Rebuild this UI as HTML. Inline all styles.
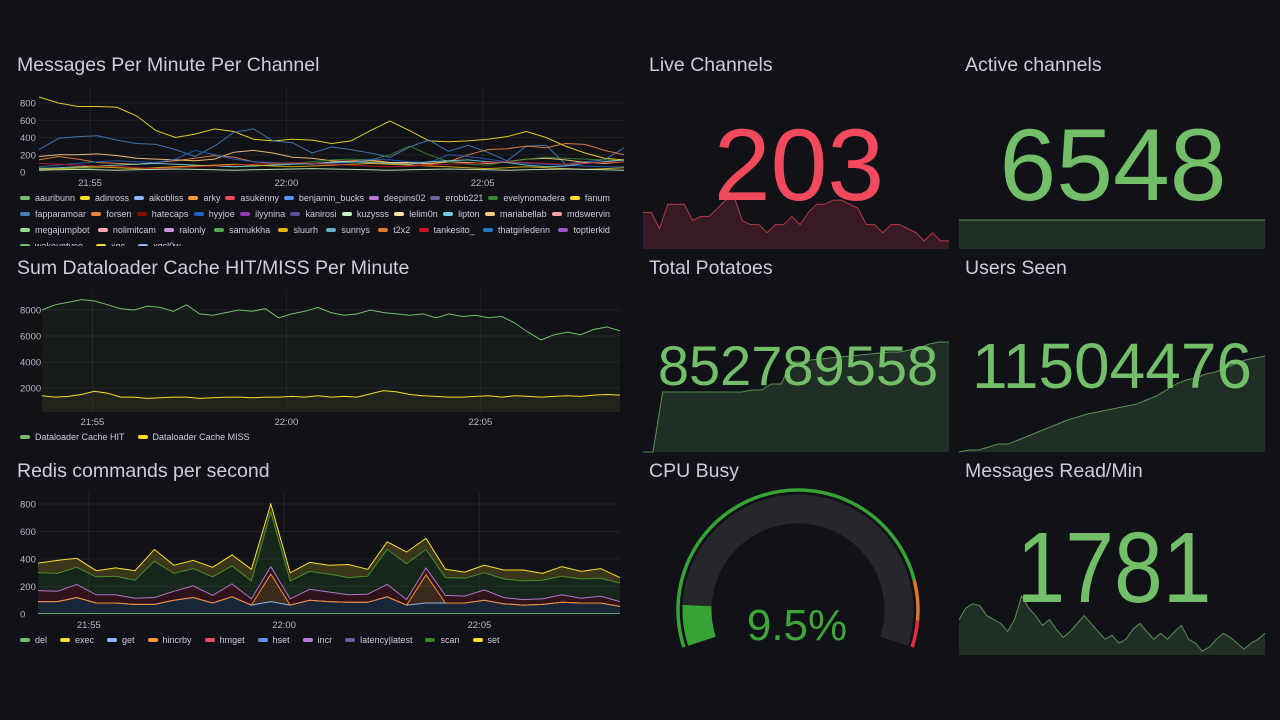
<!DOCTYPE html>
<html><head><meta charset="utf-8">
<style>
body{margin:0;background:#111217;width:1280px;height:720px;overflow:hidden;font-family:"Liberation Sans",sans-serif;}
.t{position:absolute;color:#ccccdc;font-size:19.5px;}
.leg{position:absolute;font-size:9px;color:#ccccdc;overflow:hidden;}
.row{display:flex;justify-content:space-between;height:16px;align-items:center;}
.row.l{justify-content:flex-start;}
.row.l .li{margin-right:13px;}
.li{display:flex;align-items:center;height:11px;white-space:nowrap;}
.li i{display:inline-block;width:10px;height:4px;border-radius:2px;margin-right:5px;}
svg{position:absolute;left:0;top:0;}
</style></head><body>
<div class="t" style="left:17px;top:54px">Messages Per Minute Per Channel</div>
<div class="t" style="left:17px;top:257px">Sum Dataloader Cache HIT/MISS Per Minute</div>
<div class="t" style="left:17px;top:460px">Redis commands per second</div>
<div class="t" style="left:649px;top:54px">Live Channels</div>
<div class="t" style="left:965px;top:54px">Active channels</div>
<div class="t" style="left:649px;top:257px">Total Potatoes</div>
<div class="t" style="left:965px;top:257px">Users Seen</div>
<div class="t" style="left:649px;top:460px">CPU Busy</div>
<div class="t" style="left:965px;top:460px">Messages Read/Min</div>
<svg id="s" width="1280" height="720"></svg>
<div class="leg" id="leg1" style="left:20px;top:190px;width:590px;height:56px"></div>
<div class="leg" id="leg2" style="left:20px;top:429px;width:600px;height:16px"></div>
<div class="leg" id="leg3" style="left:20px;top:632px;width:600px;height:16px"></div>
<script>
// ---- Panel 1 data ----
const chanNames=["aauribunn","adinross","aikobliss","arky","asukenny","benjamin_bucks","deepins02","erobb221","evelynomadera","fanum","fapparamoar","forsen","hatecaps","hyyjoe","ilyynina","kanirosi","kuzysss","lelim0n","lipton","mariabellab","mdswervin","megajumpbot","nolimitcam","ralonly","samukkha","sluurh","sunnys","t2x2","tankesito_","thatgirledenn","toptierkid","wakeuptype","xqc","xqcl0w"];
const chanColors=["#73bf69","#fade2a","#8ab8ff","#ff9830","#f2495c","#5794f2","#b877d9","#705da0","#37872d","#fade2a","#447ebc","#ef843c","#890f02","#1f60c4","#8f3bb8","#614d93","#c8f2c2","#ffe5a8","#6ed0e0","#ffcb7d","#ff9ea8","#96d98d","#ffa6b0","#ca95e5","#56a64b","#e0b400","#64b0c8","#e0752d","#c4162a","#1f78c1","#a352cc","#73bf69","#fade2a","#8ab8ff"];
const legendRowSizes=[10,11,10,3];
const adinross=[870,800,760,760,750,650,480,400,440,500,470,380,360,380,370,330,360,480,590,480,360,350,360,380,410,470,400,300,220,160,140];
const fapparamoar=[260,390,410,420,370,330,320,260,180,300,460,500,360,340,220,290,260,220,170,290,370,240,310,230,130,300,310,90,120,140,280];
const forsen=[140,180,150,110,100,90,110,130,160,190,170,120,100,100,90,120,130,140,110,100,90,120,200,260,270,300,280,330,320,250,200];
const mariabellab=[180,200,200,210,190,160,150,140,130,150,230,250,220,170,160,130,120,130,110,110,100,120,110,100,120,150,160,140,110,100,120];
const evelynomadera=[50,40,30,50,60,50,40,60,70,80,60,70,90,100,120,140,150,140,200,300,200,120,90,80,120,150,170,160,150,140,130];
const hyyjoe=[60,80,100,120,130,120,110,150,250,200,150,120,110,100,90,100,110,150,140,120,110,200,180,150,120,100,90,80,70,60,60];
const lipton=[40,50,60,70,80,90,100,90,80,70,60,70,80,90,100,110,120,110,100,90,120,130,140,120,110,80,60,70,100,120,140];
const sluurh=[30,40,50,60,50,40,50,60,70,80,90,80,70,60,70,80,90,100,90,80,70,60,50,40,50,60,50,40,30,40,50];
const tankesito=[100,90,80,70,60,50,40,50,60,70,80,90,100,110,100,90,80,70,60,70,80,90,100,110,120,110,100,90,100,110,120];
const kuzysss=[20,25,30,25,20,25,30,35,30,25,20,25,30,35,40,35,30,25,20,25,30,35,30,25,20,25,30,35,30,25,20];
const series1=[adinross,fapparamoar,forsen,mariabellab,evelynomadera,hyyjoe,lipton,sluurh,tankesito,kuzysss];
const series1Colors=["#fade2a","#447ebc","#ef843c","#ffcb7d","#37872d","#1f60c4","#6ed0e0","#e0b400","#c4162a","#c8f2c2"];
const ticks1=[0,200,400,600,800];
const timeTicks=["21:55","22:00","22:05"];
const timeTickMin=[0,5,10];
// ---- Panel 2 data ----
const hitVals=[8000,8400,8600,8800,8700,8400,8100,8000,8300,8200,7900,8400,7700,7600,7800,8000,7900,8100,7400,7700,7900,8200,7800,7600,7700,8000,7800,7700,7600,7700,7400,7700,7500,7600,7400,7500,7000,6300,5700,6100,6300,6100,6500,6700,6400];
const missVals=[1400,1300,1350,1500,1750,1600,1300,1300,1200,1250,1300,1300,1200,1250,1300,1300,1250,1300,1300,1350,1300,1400,1300,1350,1300,1550,1800,1700,1500,1400,1350,1300,1300,1350,1400,1300,1400,1350,1300,1350,1400,1350,1450,1500,1450];
const ticks2=[2000,4000,6000,8000];
// ---- Panel 3 data (stacked) ----
const delVals=[4,4,4,4,4,4,4,4,4,4,4,4,4,4,4,4,4,4,4,4,4,4,4,4,4,4,4,4,4,4,4];
const getVals=[86,86,116,76,76,66,66,96,116,76,121,61,86,61,96,86,81,81,121,61,76,76,76,96,71,61,66,81,76,76,51];
const hincrbyVals=[0,0,0,0,0,0,0,0,0,0,0,0,200,0,0,0,0,0,0,0,205,0,0,0,0,0,0,0,0,0,0];
const incrVals=[80,75,95,60,60,45,50,65,85,55,95,45,55,45,80,70,55,60,90,40,50,55,50,75,45,40,40,55,35,50,35];
const scanVals=[130,130,125,130,135,130,265,130,125,135,130,130,395,130,130,130,125,130,255,260,135,130,130,125,135,135,135,135,140,130,135];
const setVals=[70,95,65,45,60,70,85,60,60,70,80,85,60,60,65,65,95,50,55,85,80,60,45,55,65,80,50,70,55,70,40];
const ticks3=[0,200,400,600,800];
// ---- stat sparklines ----
const liveVals=[220,220,200,230,230,230,210,215,215,225,235,240,210,205,205,195,205,205,215,205,220,230,230,235,235,230,225,205,205,195,205,205,200,195,185,195,185,185];
const activeVals=[6548,6548,6548,6548,6548,6548,6548,6548,6548,6548];
const potatoVals=[0,0,60,60,60,60,60,60,60,60,60,62,62,68,68,90,90,92,93,94,95,96,97,98,99,100,100,102,104,108,110,110];
const usersVals=[0,2,2,5,8,8,12,16,20,24,28,32,35,38,40,42,44,46,48,52,56,62,68,72,74,78,80,84,88,92,94,96];
const readVals=[1500,1560,1580,1570,1520,1500,1480,1440,1500,1620,1560,1520,1470,1500,1450,1410,1440,1480,1520,1480,1440,1400,1420,1380,1400,1450,1480,1440,1400,1430,1400,1440,1470,1400,1380,1340,1360,1400,1430,1410,1380,1350,1380,1400,1430];
const cpuValue=9.5;

const S=document.getElementById('s');const NS="http://www.w3.org/2000/svg";
function el(t,a){const e=document.createElementNS(NS,t);for(const k in a)e.setAttribute(k,a[k]);S.appendChild(e);return e;}
function lin(d0,d1,r0,r1){return v=>r0+(v-d0)/(d1-d0)*(r1-r0);}
function txt(x,y,s,size,fill,anchor){const e=el('text',{x:x,y:y,'font-size':size,fill:fill,'text-anchor':anchor||'middle','font-family':'Liberation Sans, sans-serif'});e.textContent=s;return e;}
function path(vals,xs,ys){return vals.map((v,i)=>(i?'L':'M')+xs(i).toFixed(1)+' '+ys(v).toFixed(1)).join(' ');}
function tsAxis(x0,x1,tMin,tMax,yTop,yBot,labelY){
  const tx=lin(tMin,tMax,x0,x1);
  timeTickMin.forEach((m,i)=>{
    const g=el('line',{x1:tx(m),x2:tx(m),y1:yTop,y2:yBot,stroke:'rgba(204,204,220,0.08)'});
    
    const t=txt(tx(m),labelY,timeTicks[i],9.5,'#b9b9c6');
    
  });
}
function yAxis(ticks,ys,x0,x1,lx){
  ticks.forEach(v=>{
    const g=el('line',{x1:x0,x2:x1,y1:ys(v),y2:ys(v),stroke:'rgba(204,204,220,0.08)'});
    
    const t=txt(lx,ys(v)+3.5,String(v),9.5,'#b9b9c6','start');
    
  });
}
// Panel 1
(function(){
  const x0=39,x1=624,ys=lin(0,800,172,103);
  yAxis(ticks1,ys,x0,x1,20);
  tsAxis(x0,x1,-1.3,13.6,88,172,186);
  series1.forEach((s,k)=>{const xs=lin(0,s.length-1,x0,x1);
    const p=el('path',{d:path(s,xs,ys),fill:'none',stroke:series1Colors[k],'stroke-width':1,opacity:0.9});
    });
})();
// Panel 2
(function(){
  const x0=42,x1=620,ys=lin(0,2000,414,388);
  yAxis(ticks2,ys,x0,x1,20);
  tsAxis(x0,x1,-1.3,13.6,290,412,425);
  [[hitVals,'#73bf69'],[missVals,'#fade2a']].forEach(([s,c],k)=>{const xs=lin(0,s.length-1,x0,x1);
    const a=el('path',{d:path(s,xs,ys)+` L${x1} 412 L${x0} 412 Z`,fill:c,'fill-opacity':0.05});
    
    const p=el('path',{d:path(s,xs,ys),fill:'none',stroke:c,'stroke-width':1});
    });
})();
// Panel 3
(function(){
  const x0=38,x1=620,ys=lin(0,800,614,504);
  yAxis(ticks3,ys,x0,x1,20);
  tsAxis(x0,x1,-1.3,13.6,492,614,628);
  const layers=[[delVals,'#73bf69'],[getVals,'#8ab8ff'],[hincrbyVals,'#ff9830'],[incrVals,'#b877d9'],[scanVals,'#37872d'],[setVals,'#fade2a']];
  const fills=['#73bf69','#1f3a5a','#ff9830','#c4162a','#37872d','#fade2a'];
  let base=delVals.map(()=>0);
  const xs=lin(0,delVals.length-1,x0,x1);
  layers.forEach(([s,c],k)=>{
    const top=base.map((b,i)=>b+s[i]);
    const d=path(top,xs,ys)+' '+base.map((v,i)=>'L'+xs(base.length-1-i).toFixed(1)+' '+ys(base[base.length-1-i]).toFixed(1)).join(' ')+' Z';
    const a=el('path',{d:d,fill:fills[k],'fill-opacity':k==1?0.5:0.18});
    
    const p=el('path',{d:path(top,xs,ys),fill:'none',stroke:c,'stroke-width':1});
    
    base=top;
  });
})();
// Sparklines
function spark(vals,x0,x1,yb,d0,d1,yt,c,fo){
  const xs=lin(0,vals.length-1,x0,x1),ys=lin(d0,d1,yb,yt);
  const a=el('path',{d:path(vals,xs,ys)+` L${x1} ${yb} L${x0} ${yb} Z`,fill:c,'fill-opacity':fo});
  
  const p=el('path',{d:path(vals,xs,ys),fill:'none',stroke:c,'stroke-width':1,'stroke-opacity':0.7});
  
}
spark(liveVals,643,949,249,175,245,192,'#f2495c',0.17);
spark(activeVals,959,1265,249,0,12645,193,'#73bf69',0.17);
spark(potatoVals,643,949,452,0,112,340,'#73bf69',0.17);
spark(usersVals,959,1265,452,0,100,352,'#73bf69',0.17);
spark(readVals,959,1265,655,1320,1640,592,'#73bf69',0.17);
function big(x,y,s,size,c,name){const t=txt(x,y,s,size,c);return t;}
big(799,200,'203',102,'#f2495c','live-channels-value');
big(1113,200,'6548',102,'#73bf69','active-channels-value');
big(798,385,'852789558',56,'#73bf69','total-potatoes-value');
big(1112,388,'11504476',64,'#73bf69','users-seen-value');
const rv=big(1114,602,'1781',100,'#73bf69','messages-read-value');
rv.setAttribute('textLength','195');rv.setAttribute('lengthAdjust','spacingAndGlyphs');
// Gauge
(function(){
  const cx=798,cy=610,start=198,sweep=216;
  const ang=f=>(start-f*sweep)*Math.PI/180;
  const pt=(f,r)=>[cx+r*Math.cos(ang(f)),cy-r*Math.sin(ang(f))];
  function arc(f0,f1,r,w,c,name){const a=pt(f0,r),b=pt(f1,r);const large=(f1-f0)*sweep>180?1:0;
    const p=el('path',{d:`M${a[0]} ${a[1]} A${r} ${r} 0 ${large} 1 ${b[0]} ${b[1]}`,fill:'none',stroke:c,'stroke-width':w});
    }
  arc(0,1,101,29,'#25272d','gauge-track');
  arc(0,cpuValue/100,101,29,'#37a335','gauge-value-arc');
  arc(0,0.85,120,3.5,'#37a335','threshold-green');
  arc(0.85,0.94,120,3.5,'#e0752d','threshold-orange');
  arc(0.94,1,120,3.5,'#e02f44','threshold-red');
  big(797,640,cpuValue+'%',44,'#3fa53a','cpu-busy-value');
})();
// Legends
function legend(id,names,colors,rows,leftAlign){const L=document.getElementById(id);let idx=0;
  rows.forEach((n,r)=>{const row=document.createElement('div');row.className='row'+((leftAlign||r==rows.length-1&&rows.length>1)?' l':'');
    
    
    for(let j=0;j<n;j++,idx++){
      const d=document.createElement('div');d.className='li';
      
      
      d.innerHTML='<i style="background:'+colors[idx]+'"></i>'+names[idx];row.appendChild(d);}
    L.appendChild(row);});}
legend('leg1',chanNames,chanColors,legendRowSizes,false);
legend('leg2',['Dataloader Cache HIT','Dataloader Cache MISS'],['#73bf69','#fade2a'],[2],true);
legend('leg3',['del','exec','get','hincrby','hmget','hset','incr','latency|latest','scan','set'],['#73bf69','#fade2a','#8ab8ff','#ff9830','#f2495c','#5794f2','#b877d9','#705da0','#37872d','#fade2a'],[10],true);
</script>
</body></html>
